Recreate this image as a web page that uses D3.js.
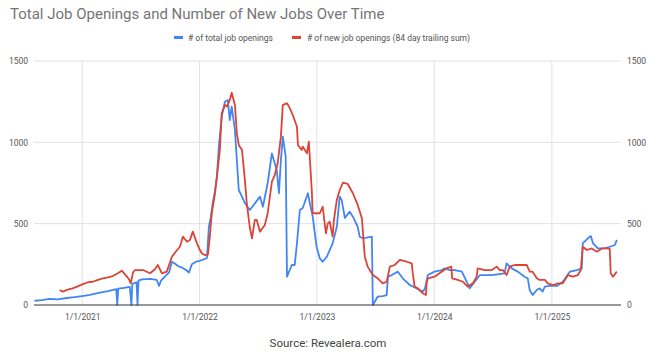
<!DOCTYPE html>
<html>
<head>
<meta charset="utf-8">
<script src="https://cdn.jsdelivr.net/npm/d3@7"></script>
<style>
  body { margin: 0; background: #fff; }
  svg { font-family: Roboto, Arial, sans-serif; }
</style>
</head>
<body>
<svg id="drawing_region"></svg>
<script>
// Data
const seriesNames = ["# of total job openings", "# of new job openings (84 day trailing sum)"];
const yTicks = [0, 500, 1000, 1500];
const xTicks = ["2021-01-01", "2022-01-01", "2023-01-01", "2024-01-01", "2025-01-01"];

const totalDates = ["2020-08-06","2020-08-28","2020-09-22","2020-10-17","2020-11-14","2020-12-08","2021-01-01","2021-01-25","2021-02-25","2021-03-22","2021-04-17","2021-04-20","2021-04-23","2021-05-11","2021-05-29","2021-06-03","2021-06-06","2021-06-19","2021-06-22","2021-06-25","2021-07-06","2021-07-31","2021-08-21","2021-08-28","2021-09-03","2021-09-15","2021-09-28","2021-10-07","2021-10-16","2021-10-26","2021-11-07","2021-11-20","2021-11-29","2021-12-08","2021-12-21","2022-01-02","2022-01-14","2022-01-24","2022-01-30","2022-02-05","2022-02-11","2022-02-18","2022-02-24","2022-03-02","2022-03-11","2022-03-21","2022-03-30","2022-04-05","2022-04-11","2022-04-21","2022-04-27","2022-05-03","2022-05-13","2022-05-22","2022-06-06","2022-06-22","2022-07-08","2022-07-17","2022-08-01","2022-08-14","2022-08-20","2022-08-29","2022-09-05","2022-09-11","2022-09-17","2022-09-26","2022-09-30","2022-10-15","2022-10-24","2022-10-31","2022-11-09","2022-11-18","2022-12-04","2022-12-10","2022-12-19","2022-12-31","2023-01-10","2023-01-19","2023-02-01","2023-02-19","2023-03-04","2023-03-13","2023-03-19","2023-03-29","2023-04-13","2023-04-23","2023-05-08","2023-05-14","2023-05-24","2023-06-21","2023-06-24","2023-07-09","2023-07-25","2023-08-06","2023-08-10","2023-08-22","2023-09-10","2023-09-25","2023-10-17","2023-11-08","2023-11-26","2023-12-03","2023-12-12","2024-01-02","2024-01-24","2024-02-03","2024-02-18","2024-03-05","2024-03-27","2024-04-11","2024-04-20","2024-05-06","2024-05-22","2024-06-28","2024-08-07","2024-08-13","2024-08-29","2024-09-17","2024-10-08","2024-10-18","2024-10-24","2024-11-02","2024-11-15","2024-11-24","2024-12-03","2024-12-10","2024-12-25","2025-01-17","2025-02-04","2025-02-26","2025-03-20","2025-04-04","2025-04-07","2025-04-23","2025-05-02","2025-05-09","2025-05-24","2025-06-15","2025-06-30","2025-07-16","2025-07-22"];
const totalValues = [26,30,37,35,43,48,55,62,76,85,98,0,100,105,111,0,130,140,0,150,158,160,154,117,150,174,200,266,255,240,230,215,200,250,266,272,280,289,481,540,627,700,789,973,1158,1250,1260,1137,1219,1076,891,707,666,627,584,625,666,604,750,932,891,830,687,891,1035,912,174,246,246,379,584,596,687,627,543,358,287,266,297,379,481,666,646,535,574,543,481,420,410,420,0,51,55,61,174,184,205,164,123,102,82,100,184,205,215,225,215,215,205,143,102,143,184,184,195,256,225,205,174,164,92,61,92,102,82,113,117,117,143,205,215,225,379,410,424,379,348,348,358,369,400];

const newDates = ["2020-10-23","2020-11-01","2020-11-17","2020-12-02","2020-12-18","2021-01-03","2021-01-19","2021-02-03","2021-02-19","2021-03-06","2021-03-22","2021-04-06","2021-04-22","2021-05-04","2021-05-20","2021-05-26","2021-06-01","2021-06-08","2021-06-14","2021-07-09","2021-07-31","2021-08-15","2021-08-24","2021-09-06","2021-09-21","2021-10-07","2021-10-23","2021-11-01","2021-11-10","2021-11-23","2021-12-02","2021-12-11","2021-12-24","2022-01-02","2022-01-08","2022-01-17","2022-01-27","2022-02-02","2022-02-08","2022-02-18","2022-02-24","2022-03-05","2022-03-11","2022-03-21","2022-03-27","2022-04-05","2022-04-11","2022-04-21","2022-04-27","2022-05-03","2022-05-13","2022-05-22","2022-05-28","2022-06-06","2022-06-13","2022-06-22","2022-06-28","2022-07-08","2022-07-23","2022-08-01","2022-08-14","2022-08-23","2022-09-01","2022-09-11","2022-09-17","2022-09-30","2022-10-09","2022-10-18","2022-10-31","2022-11-03","2022-11-15","2022-11-18","2022-12-01","2022-12-07","2022-12-16","2022-12-19","2023-01-10","2023-01-19","2023-01-29","2023-02-04","2023-02-10","2023-02-19","2023-02-23","2023-03-04","2023-03-13","2023-03-23","2023-04-07","2023-04-23","2023-05-08","2023-05-21","2023-05-30","2023-06-08","2023-06-24","2023-07-09","2023-07-25","2023-08-06","2023-08-16","2023-08-31","2023-09-16","2023-10-08","2023-10-23","2023-10-26","2023-11-01","2023-11-11","2023-11-26","2023-12-06","2023-12-09","2023-12-12","2024-01-02","2024-01-24","2024-02-08","2024-02-23","2024-02-26","2024-03-14","2024-03-30","2024-04-14","2024-04-30","2024-05-12","2024-05-15","2024-06-06","2024-06-28","2024-07-13","2024-07-23","2024-08-01","2024-08-13","2024-08-23","2024-09-07","2024-09-29","2024-10-15","2024-10-24","2024-11-02","2024-11-15","2024-11-24","2024-12-10","2024-12-19","2025-01-04","2025-01-20","2025-02-04","2025-02-20","2025-03-07","2025-03-23","2025-04-01","2025-04-07","2025-04-20","2025-05-05","2025-05-21","2025-06-06","2025-06-21","2025-06-30","2025-07-03","2025-07-10","2025-07-22"];
const newValues = [92,82,95,102,115,128,140,143,155,164,170,178,195,211,174,160,133,200,215,215,195,220,246,195,205,297,338,358,420,389,400,451,379,338,318,307,310,420,564,687,789,950,1178,1230,1219,1260,1305,1230,1055,984,953,768,625,481,410,523,523,451,492,564,758,799,871,1035,1230,1240,1209,1168,1096,984,953,974,932,1004,707,564,564,604,441,502,512,420,523,646,707,752,744,687,615,533,297,236,184,164,133,143,236,246,277,266,256,200,113,102,72,61,143,164,174,205,225,236,164,154,143,113,133,174,225,215,215,236,215,215,184,236,246,246,246,205,205,164,154,154,133,123,133,133,184,174,184,215,358,338,348,328,348,348,345,195,174,205];

const colors = ["#4285f4", "#db4437"];

const config = {
    width: 650,
    height: 352,
    margin: {top: 61, right: 29, bottom: 47, left: 34}
};

const parse = d3.timeParse("%Y-%m-%d");
const fmt = d3.timeFormat("%-m/%-d/%Y");
const series = [
    totalDates.map((d, i) => ({date: parse(d), value: totalValues[i]})),
    newDates.map((d, i) => ({date: parse(d), value: newValues[i]}))
];

const svg = d3.select("#drawing_region")
    .attr("width", config.width)
    .attr("height", config.height);

const innerW = config.width - config.margin.left - config.margin.right;
const innerH = config.height - config.margin.top - config.margin.bottom;

const xscale = d3.scaleTime()
    .domain([parse("2020-08-04"), parse("2025-08-04")])
    .range([0, innerW]);
const yscale = d3.scaleLinear()
    .domain([0, 1500])
    .range([innerH, 0]);

const chart = svg.append("g")
    .attr("transform", `translate(${config.margin.left}, ${config.margin.top})`);

// title
svg.append("text")
    .attr("x", 10)
    .attr("y", 19)
    .attr("font-size", "15px")
    .attr("fill", "#757575")
    .text("Total Job Openings and Number of New Jobs Over Time");

// legend
const legendItems = [{x: 174, tx: 188}, {x: 292, tx: 307}];
legendItems.forEach((l, i) => {
    svg.append("rect")
        .attr("x", l.x).attr("y", 36)
        .attr("width", 9).attr("height", 3)
        .attr("fill", colors[i]);
    svg.append("text")
        .attr("x", l.tx).attr("y", 40.5)
        .attr("font-size", "8.5px")
        .attr("fill", "#555")
        .text(seriesNames[i]);
});

// gridlines
chart.selectAll(".hgrid")
    .data(yTicks.filter(d => d > 0))
    .join("line")
    .attr("x1", 0).attr("x2", innerW)
    .attr("y1", d => yscale(d)).attr("y2", d => yscale(d))
    .attr("stroke", "#e2e2e2");

chart.selectAll(".vgrid")
    .data(xTicks.map(parse))
    .join("line")
    .attr("x1", d => xscale(d)).attr("x2", d => xscale(d))
    .attr("y1", 0).attr("y2", innerH)
    .attr("stroke", "#e2e2e2");

// axes
const yLeft = d3.axisLeft(yscale).tickValues(yTicks).tickFormat(d3.format("d")).tickSize(0).tickPadding(6);
const yRight = d3.axisRight(yscale).tickValues(yTicks).tickFormat(d3.format("d")).tickSize(0).tickPadding(6);
const xAxis = d3.axisBottom(xscale).tickValues(xTicks.map(parse)).tickFormat(fmt).tickSize(0).tickPadding(9);

const gl = chart.append("g").call(yLeft);
const gr = chart.append("g").attr("transform", `translate(${innerW},0)`).call(yRight);
const gx = chart.append("g").attr("transform", `translate(0,${innerH})`).call(xAxis);
[gl, gr, gx].forEach(g => {
    g.select(".domain").remove();
    g.selectAll("text").attr("font-size", "8.5px").attr("fill", "#555").attr("font-family", "Roboto, Arial, sans-serif");
});

// lines
const line = d3.line()
    .x(d => xscale(d.date))
    .y(d => yscale(d.value));

series.forEach((s, i) => {
    chart.append("path")
        .datum(s)
        .attr("fill", "none")
        .attr("stroke", colors[i])
        .attr("stroke-width", 1.8)
        .attr("stroke-linejoin", "round")
        .attr("d", line);
});

// baseline
chart.append("line")
    .attr("x1", 0).attr("x2", innerW)
    .attr("y1", innerH).attr("y2", innerH)
    .attr("stroke", "#333").attr("stroke-width", 1);

// source
svg.append("text")
    .attr("x", 328)
    .attr("y", 347)
    .attr("text-anchor", "middle")
    .attr("font-size", "11.5px")
    .attr("fill", "#444")
    .text("Source: Revealera.com");
</script>
</body>
</html>
